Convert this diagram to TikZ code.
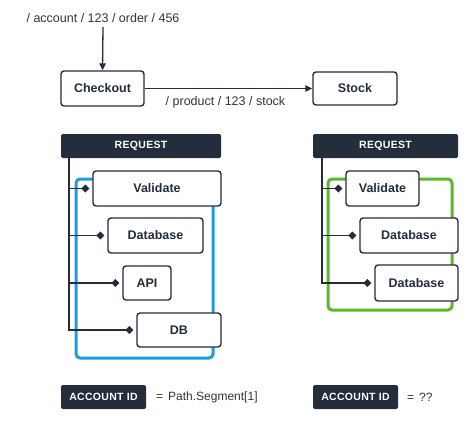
\documentclass[tikz,border=0pt]{standalone}
\usepackage{fontspec}
\setmainfont{Liberation Sans}
\newfontfamily\capsfont[LetterSpace=3]{Liberation Sans}
\usetikzlibrary{arrows.meta}
\definecolor{ink}{HTML}{232D3B}
\definecolor{txt}{HTML}{333333}
\definecolor{bluebox}{HTML}{1E9BE3}
\definecolor{greenbox}{HTML}{5BB828}
\tikzset{
  svc/.style={draw=ink, line width=1.4pt, rounded corners=3pt, fill=white, inner sep=0pt,
    font=\fontsize{12.5}{14}\selectfont\bfseries, text=ink},
  hdr/.style={fill=ink, rounded corners=2pt, inner sep=0pt, text=white,
    font=\capsfont\bfseries\fontsize{10.5}{12}\selectfont},
  plain/.style={inner sep=0pt, text=txt, font=\fontsize{12.5}{14}\selectfont},
  conn/.style={draw=ink, line width=1.3pt},
  branch/.style={conn, -{Diamond[length=8pt,width=8pt]}, shorten >=3pt},
  frame/.style={line width=3pt, rounded corners=4pt},
}
\begin{document}
\begin{tikzpicture}[x=1pt,y=-1pt]
\useasboundingbox (0,0) rectangle (474,424);
% frames
\draw[frame, draw=bluebox] (76,179) rectangle (213,358);
\draw[frame, draw=greenbox] (328,179) rectangle (452,310);
% top
\node[plain] (url) at (103,18) {/ account / 123 / order / 456};
\node[svc, minimum width=83pt, minimum height=35pt] (checkout) at (102.5,88.5) {Checkout};
\node[svc, minimum width=84pt, minimum height=33pt] (stock) at (355,88.5) {Stock};
\draw[conn, -{Triangle[length=7pt,width=6.5pt]}] (url.south) ++(0,4) -- (checkout.north);
\draw[conn, -{Triangle[length=7pt,width=6.5pt]}] (checkout.east) -- node[plain, midway, below=7pt, xshift=-3pt] {/ product / 123 / stock} (stock.west);
% headers
\node[hdr, minimum width=160pt, minimum height=24pt] (req1) at (141,146) {REQUEST};
\node[hdr, minimum width=145pt, minimum height=24pt] (req2) at (385.5,146) {REQUEST};
% left services
\node[svc, minimum width=128pt, minimum height=35pt] (v1) at (157,188.5) {Validate};
\node[svc, minimum width=95pt, minimum height=35pt] (d1) at (155.5,235.5) {Database};
\node[svc, minimum width=48pt, minimum height=34pt] (a1) at (147,283) {API};
\node[svc, minimum width=84pt, minimum height=34pt] (db1) at (179,330) {DB};
\coordinate (t1) at (69,158);
\draw[branch] (t1) |- (v1.west);
\draw[branch] (t1) |- (d1.west);
\draw[branch] (t1) |- (a1.west);
\draw[branch] (t1) |- (db1.west);
% right services
\node[svc, minimum width=73pt, minimum height=35pt] (v2) at (382.5,188.5) {Validate};
\node[svc, minimum width=98pt, minimum height=35pt] (d2) at (409,235.5) {Database};
\node[svc, minimum width=83pt, minimum height=36pt] (d3) at (416.5,283) {Database};
\coordinate (t2) at (322,158);
\draw[branch] (t2) |- (v2.west);
\draw[branch] (t2) |- (d2.west);
\draw[branch] (t2) |- (d3.west);
% account id
\node[hdr, minimum width=85pt, minimum height=24pt] (ac1) at (103.5,397) {ACCOUNT ID};
\node[hdr, minimum width=85pt, minimum height=24pt] (ac2) at (355.5,397) {ACCOUNT ID};
\node[plain, anchor=west, font=\fontsize{12}{14}\selectfont] (eq1) at (156,397) {=\hspace{5pt}Path.Segment[1]};
\node[plain, anchor=west, font=\fontsize{12}{14}\selectfont] (eq2) at (407,397) {=\hspace{5pt}??};
\end{tikzpicture}
\end{document}
